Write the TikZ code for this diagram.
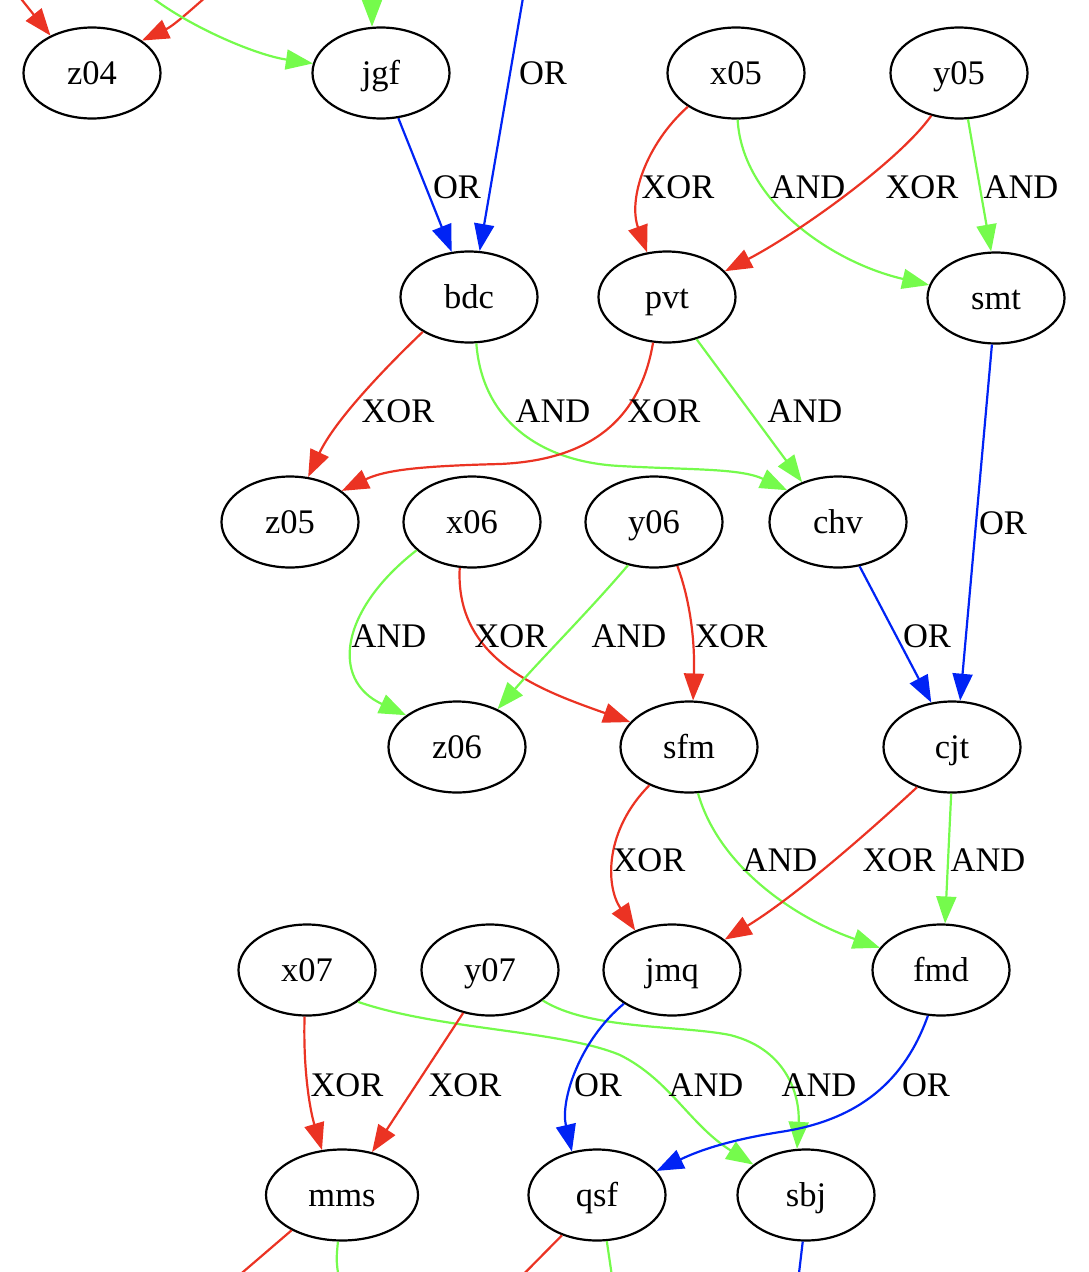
\documentclass[tikz,border=0pt]{standalone}
\usepackage{fontspec}
\setmainfont{Liberation Serif}
\usetikzlibrary{arrows.meta,shapes.geometric}
\definecolor{gvred}{RGB}{235,51,35}
\definecolor{gvgreen}{RGB}{117,251,76}
\definecolor{gvblue}{RGB}{0,35,245}
\begin{document}
\begin{tikzpicture}[x=1pt,y=-1pt,
  gate/.style={ellipse,draw=black,line width=2.2pt,minimum width=137pt,minimum height=91pt,inner sep=0pt,
    font=\fontsize{34.5}{40}\selectfont,text height=30pt,text depth=7pt},
  lbl/.style={inner sep=0pt,font=\fontsize{34.5}{40}\selectfont,text height=30pt,text depth=7pt},
  wire/.style={line width=2.2pt,-{Triangle[length=27pt,width=20pt]}},
  xorw/.style={wire,gvred}, andw/.style={wire,gvgreen}, orw/.style={wire,gvblue},
  stub/.style={line width=2.2pt}
]
\path[use as bounding box] (0,0) rectangle (1088,1272);
\clip (0,0) rectangle (1088,1272);
% nodes
\node[gate] (z04) at (92,73) {z04};
\node[gate] (jgf) at (381,73) {jgf};
\node[gate] (x05) at (736,73) {x05};
\node[gate] (y05) at (959,73) {y05};
\node[gate] (bdc) at (469,297) {bdc};
\node[gate] (pvt) at (667,297) {pvt};
\node[gate] (smt) at (996,298) {smt};
\node[gate] (z05) at (290,522) {z05};
\node[gate] (x06) at (472,522) {x06};
\node[gate] (y06) at (654,522) {y06};
\node[gate] (chv) at (838,522) {chv};
\node[gate] (z06) at (457,747) {z06};
\node[gate] (sfm) at (689,747) {sfm};
\node[gate] (cjt) at (952,747) {cjt};
\node[gate] (x07) at (307,970) {x07};
\node[gate] (y07) at (490,970) {y07};
\node[gate] (jmq) at (672,970) {jmq};
\node[gate] (fmd) at (941,970) {fmd};
\node[gate,minimum width=152pt] (mms) at (342,1195) {mms};
\node[gate] (qsf) at (597,1195) {qsf};
\node[gate] (sbj) at (806,1195) {sbj};
% free ends
\coordinate (t1) at (14,-10);
\coordinate (t2) at (214,-10);
\coordinate (t3) at (145,-8);
\coordinate (t4) at (372,-8);
\coordinate (t5) at (524,-8);
\coordinate (b1) at (222,1290);
\coordinate (b2) at (341,1290);
\coordinate (b3) at (508,1290);
\coordinate (b4) at (614,1290);
\coordinate (b5) at (797,1290);
% top incoming
\draw[xorw] (t1) -- (z04.138);
\draw[xorw] (t2) .. controls (195,6) and (175,25) .. (z04.33);
\draw[andw] (t3) .. controls (185,25) and (255,55) .. (jgf.172);
\draw[andw] (t4) -- (jgf.101);
\draw[orw] (t5) -- (bdc.77);
% rank 1 -> 2
\draw[orw] (jgf.-69) -- (bdc.111);
\draw[xorw] (x05.215) .. controls (645,145) and (628,200) .. (pvt.114);
\draw[andw] (x05.272) .. controls (742,200) and (830,262) .. (smt.169);
\draw[xorw] (y05.237) .. controls (900,160) and (800,232) .. (pvt.24);
\draw[andw] (y05.281) -- (smt.96);
% rank 2 -> 3
\draw[xorw] (bdc.217) .. controls (385,368) and (335,420) .. (z05.68);
\draw[andw] (bdc.279) .. controls (482,420) and (540,462) .. (620,466) .. controls (690,470) and (740,468) .. (chv.148);
\draw[xorw] (pvt.253) .. controls (640,420) and (590,460) .. (500,464) .. controls (420,466) and (385,470) .. (z05.31);
\draw[andw] (pvt.305) -- (chv.132);
\draw[orw] (smt.265) -- (cjt.80);
% rank 3 -> 4
\draw[andw] (x06.207) .. controls (340,610) and (330,680) .. (z06.148);
\draw[xorw] (x06.255) .. controls (455,660) and (540,690) .. (sfm.157);
\draw[andw] (y06.239) .. controls (590,610) and (540,660) .. (z06.43);
\draw[xorw] (y06.298) .. controls (690,600) and (695,640) .. (sfm.85);
\draw[orw] (chv.296) -- (cjt.115);
% rank 4 -> 5
\draw[xorw] (sfm.224) .. controls (605,830) and (605,885) .. (jmq.133);
\draw[andw] (sfm.281) .. controls (720,870) and (800,920) .. (fmd.160);
\draw[xorw] (cjt.229) .. controls (860,840) and (790,900) .. (jmq.30);
\draw[andw] (cjt.269) -- (fmd.85);
% rank 5 -> 6
\draw[xorw] (x07.267) .. controls (303,1070) and (310,1110) .. (mms.114);
\draw[andw] (x07.328) .. controls (440,1030) and (560,1030) .. (620,1055) .. controls (670,1080) and (690,1125) .. (sbj.150);
\draw[xorw] (y07.238) -- (mms.55);
\draw[andw] (y07.330) .. controls (590,1030) and (680,1025) .. (730,1035) .. controls (790,1050) and (800,1100) .. (sbj.101);
\draw[orw] (jmq.215) .. controls (580,1040) and (560,1100) .. (qsf.120);
\draw[orw] (fmd.254) .. controls (905,1080) and (860,1120) .. (780,1132) .. controls (730,1140) and (700,1150) .. (qsf.22);
% bottom outgoing
\draw[stub,gvred] (mms.215) -- (b1);
\draw[stub,gvgreen] (mms.265) .. controls (336,1262) .. (b2);
\draw[stub,gvred] (qsf.229) -- (b3);
\draw[stub,gvgreen] (qsf.282) -- (b4);
\draw[stub,gvblue] (sbj.266) -- (b5);
% labels
\node[lbl] (l1) at (543,73) {OR};
\node[lbl] (l2) at (457,187) {OR};
\node[lbl] (l3) at (678,187) {XOR};
\node[lbl] (l4) at (808,187) {AND};
\node[lbl] (l5) at (922,187) {XOR};
\node[lbl] (l6) at (1021,187) {AND};
\node[lbl] (l7) at (398,411) {XOR};
\node[lbl] (l8) at (553,411) {AND};
\node[lbl] (l9) at (664,411) {XOR};
\node[lbl] (l10) at (805,411) {AND};
\node[lbl] (l11) at (1003,523) {OR};
\node[lbl] (l12) at (389,636) {AND};
\node[lbl] (l13) at (511,636) {XOR};
\node[lbl] (l14) at (629,636) {AND};
\node[lbl] (l15) at (731,636) {XOR};
\node[lbl] (l16) at (927,636) {OR};
\node[lbl] (l17) at (649,860) {XOR};
\node[lbl] (l18) at (780,860) {AND};
\node[lbl] (l19) at (899,860) {XOR};
\node[lbl] (l20) at (988,860) {AND};
\node[lbl] (l21) at (347,1085) {XOR};
\node[lbl] (l22) at (465,1085) {XOR};
\node[lbl] (l23) at (598,1085) {OR};
\node[lbl] (l24) at (706,1085) {AND};
\node[lbl] (l25) at (819,1085) {AND};
\node[lbl] (l26) at (926,1085) {OR};
\end{tikzpicture}
\end{document}
